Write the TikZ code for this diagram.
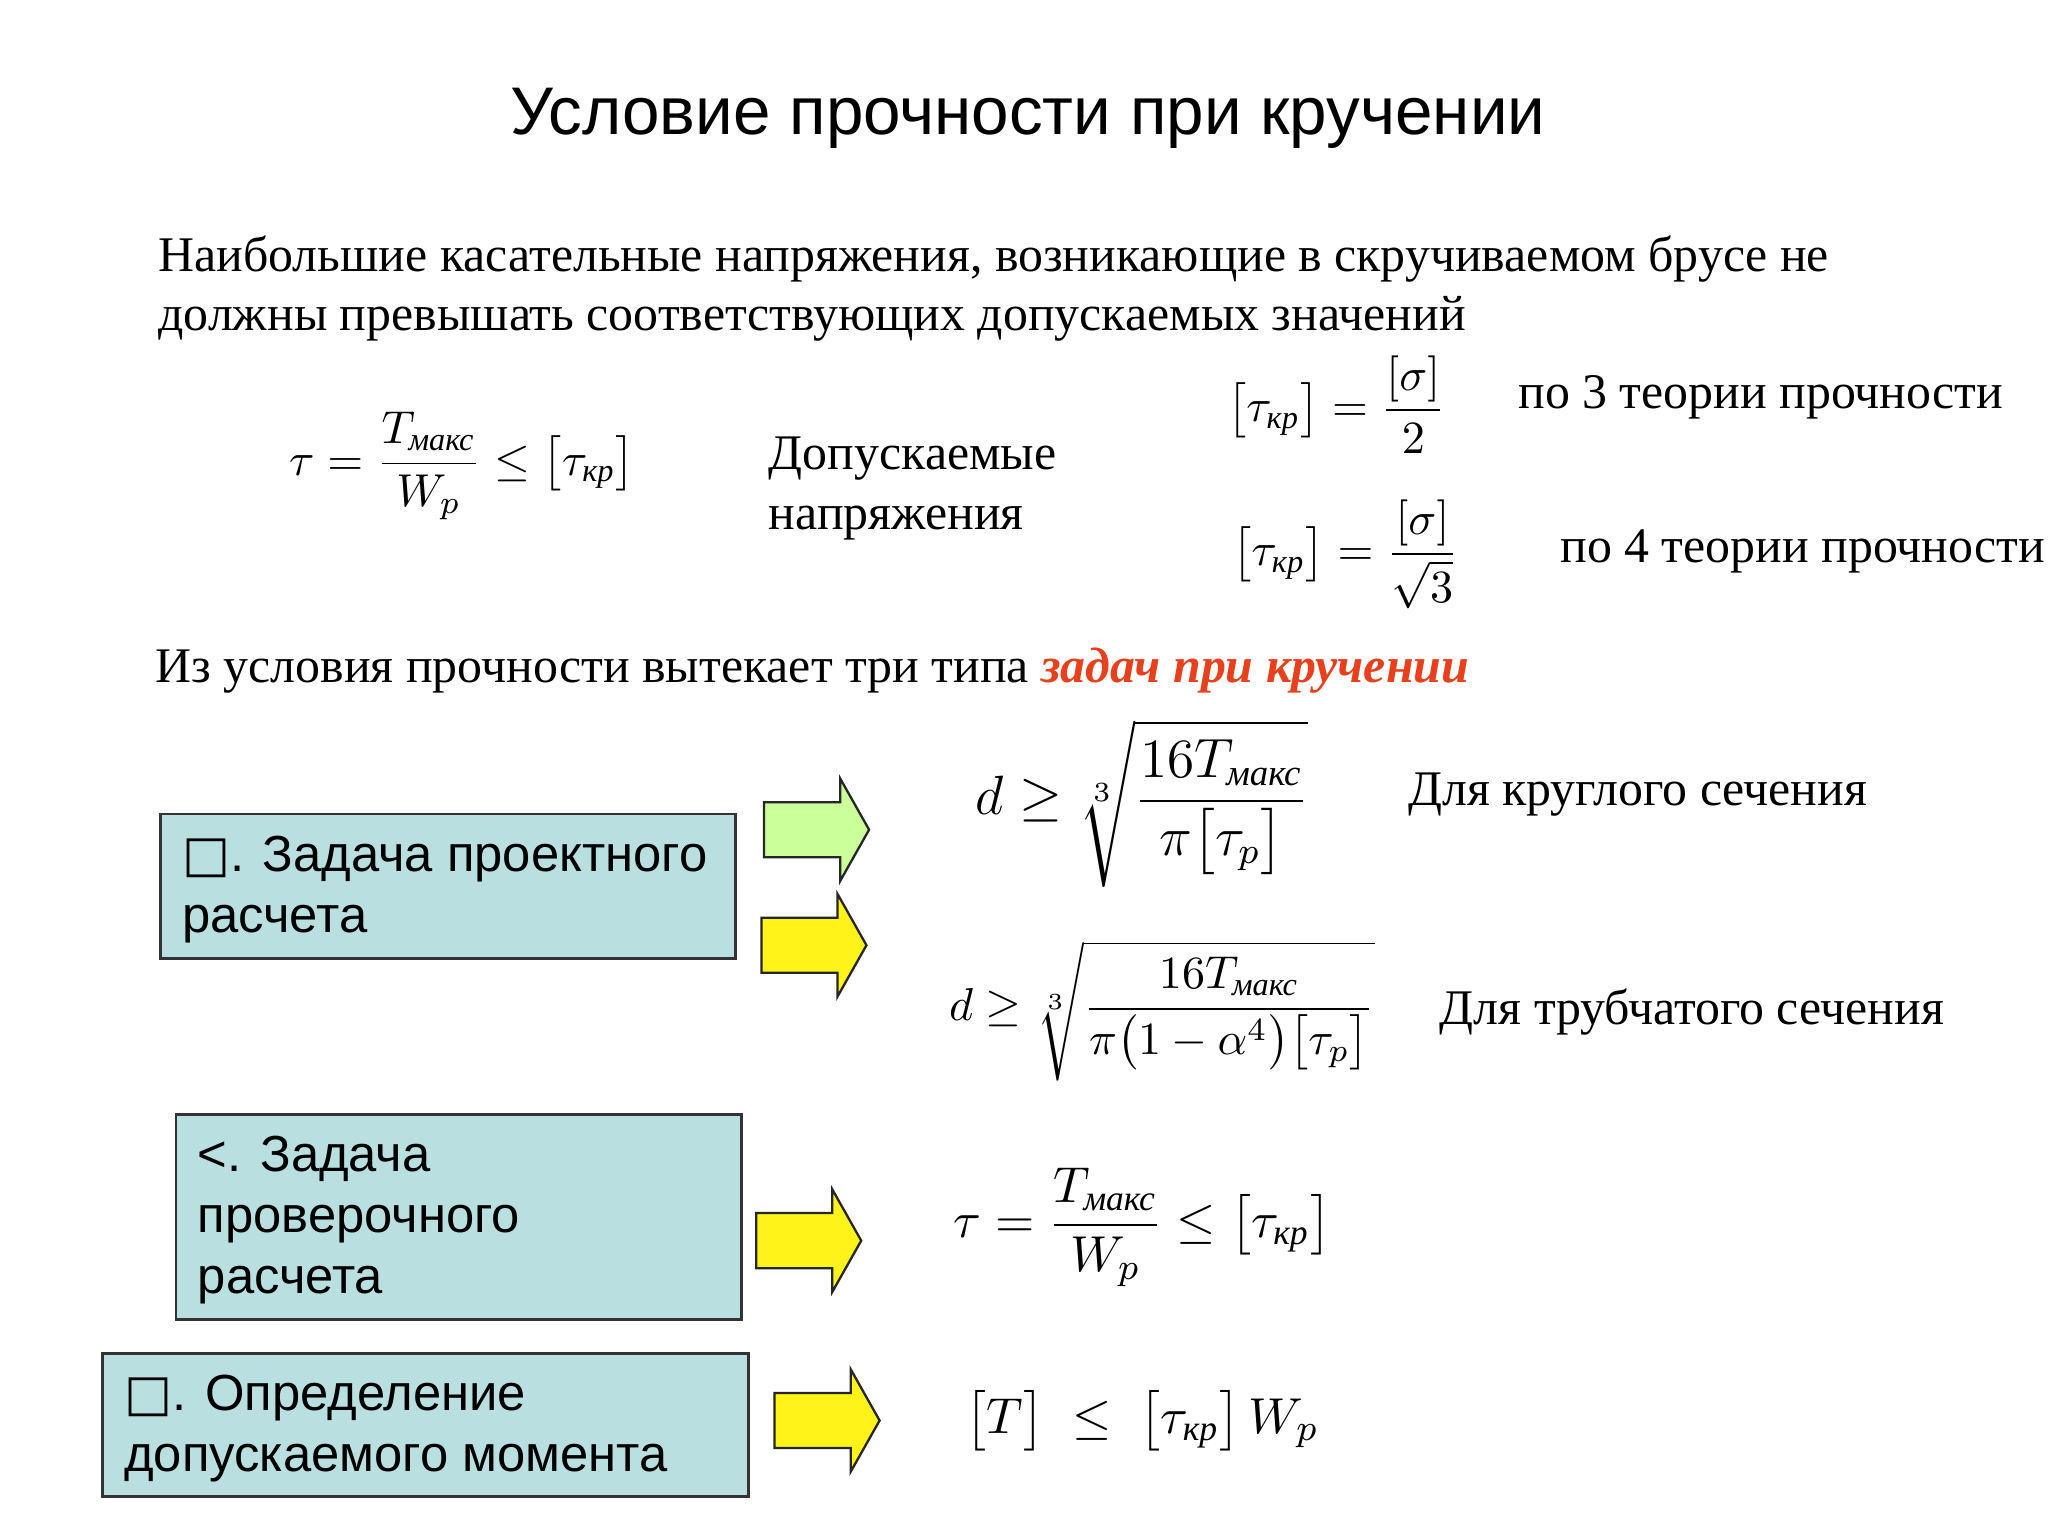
\documentclass[tikz,border=0pt]{standalone}
\usepackage{amsmath}
\usepackage{fontspec}
\setmainfont{Liberation Serif}
\newfontfamily\titlesans{Liberation Sans}
\newfontfamily\boxsym{DejaVu Sans}
\newcommand\cyr[1]{\text{\itshape #1}}
\definecolor{boxfill}{RGB}{186,223,224}
\begin{document}
\begin{tikzpicture}[x=0.1mm,y=-0.1mm]
\tikzset{
 body/.style={font=\fontsize{10.8}{13}\selectfont, anchor=west, inner sep=0},
 formula/.style={font=\fontsize{10}{12}\selectfont, inner sep=0},
 bigformula/.style={font=\fontsize{11}{13}\selectfont, inner sep=0},
 taskbox/.style={draw=black!80, line width=0.6pt, fill=boxfill},
 boxtext/.style={font=\titlesans\fontsize{11}{13.2}\selectfont, anchor=north west, inner sep=0, align=left},
 arr/.style={draw=black!85, line width=0.5pt}
}
\useasboundingbox (0,0) rectangle (1560,1170);
\fill[white] (0,0) rectangle (1560,1170);
\node[font=\titlesans\fontsize{14.6}{17}\selectfont, inner sep=0] (title) at (783,90) {Условие прочности при кручении};
\node[body] (p1) at (120,197) {Наибольшие касательные напряжения, возникающие в скручиваемом брусе не};
\node[body] (p2) at (120,243) {должны превышать соответствующих допускаемых значений};
\node[formula] (f1) at (352,355) {$\tau=\dfrac{T_{\cyr{макс}}}{W_p}\le\bigl[\tau_{\cyr{кр}}\bigr]$};
\node[body, align=left, anchor=north west] (dop) at (585,332) {Допускаемые\\напряжения};
\node[formula] (f3) at (1018,308) {$\bigl[\tau_{\cyr{кр}}\bigr]=\dfrac{[\sigma]}{2}$};
\node[body] (t3) at (1156,303) {по 3 теории прочности};
\node[formula] (f4) at (1025,422) {$\bigl[\tau_{\cyr{кр}}\bigr]=\dfrac{[\sigma]}{\sqrt{3}}$};
\node[body] (t4) at (1188,420) {по 4 теории прочности};
\node[body] (iz) at (118,511) {Из условия прочности вытекает три типа \textcolor[HTML]{E8401C}{\bfseries\itshape задач при кручении}};
% boxes
\fill[taskbox] (122,620) rectangle (560,730);
\node[boxtext] (b1) at (138,636) {{\boxsym □}. Задача проектного\\расчета};
\fill[taskbox] (134,849) rectangle (565,1005);
\node[boxtext] (b2) at (150,865) {<. Задача\\проверочного\\расчета};
\fill[taskbox] (78,1031) rectangle (570,1140);
\node[boxtext] (b3) at (94,1047) {{\boxsym □}. Определение\\допускаемого момента};
% arrows
\foreach \x/\y/\c in {582/632/green!35!lime!40!white, 580/720/yellow!90!white, 576/945/yellow!90!white, 590/1082/yellow!90!white}{
 \begin{scope}[shift={(\x,\y)}]
 \filldraw[arr, fill=\c] (0,-21)--(58,-21)--(58,-39)--(80,0)--(58,39)--(58,21)--(0,21)--cycle;
 \end{scope}}
% right formulas
\node[bigformula, font=\fontsize{12}{14}\selectfont] (d1) at (870,612) {$d\ge\sqrt[3]{\dfrac{16T_{\cyr{макс}}}{\pi\bigl[\tau_p\bigr]}}$};
\node[body] (c1) at (1072,605) {Для круглого сечения};
\node[formula] (d2) at (885,770) {$d\ge\sqrt[3]{\dfrac{16T_{\cyr{макс}}}{\pi\bigl(1-\alpha^4\bigr)\bigl[\tau_p\bigr]}}$};
\node[body] (c2) at (1096,771) {Для трубчатого сечения};
\node[bigformula] (f5) at (870,935) {$\tau=\dfrac{T_{\cyr{макс}}}{W_p}\le\bigl[\tau_{\cyr{кр}}\bigr]$};
\node[bigformula] (f6) at (870,1082) {$\bigl[T\bigr]\;\le\;\bigl[\tau_{\cyr{кр}}\bigr]\,W_p$};
\end{tikzpicture}
\end{document}
